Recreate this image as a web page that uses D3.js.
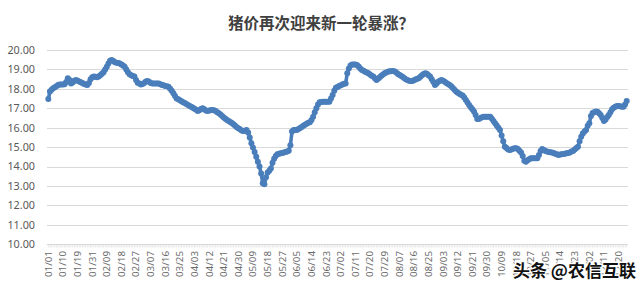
<!DOCTYPE html>
<html lang="zh">
<head>
<meta charset="utf-8" />
<title>猪价再次迎来新一轮暴涨？</title>
<script src="https://cdnjs.cloudflare.com/ajax/libs/d3/7.8.5/d3.min.js"></script>
<style>
    body { margin: 0; background: #fff; }
    svg { display: block; font-family: "Noto Sans", "Noto Sans CJK SC", sans-serif; }
    .grid line { stroke: #d9d9d9; stroke-width: 1; }
    .ylab text { fill: #595959; font-size: 10.8px; }
    .xlab text { fill: #6a6a6a; font-size: 9.8px; }
</style>
</head>
<body>
<div id="chart"></div>
<script>
    const title = "猪价再次迎来新一轮暴涨？";

    // one label every 9 points
    const tickLabels = ["01/01", "01/10", "01/19", "01/31", "02/09", "02/18", "02/27", "03/07",
        "03/16", "03/25", "04/03", "04/12", "04/21", "04/30", "05/09", "05/18", "05/27", "06/05",
        "06/14", "06/23", "07/02", "07/11", "07/20", "07/29", "08/07", "08/16", "08/25", "09/03",
        "09/12", "09/21", "09/30", "10/09", "10/18", "10/27", "11/05", "11/14", "11/23", "12/02",
        "12/11", "12/20"];

    // price, rows of 9 points, each row starts at the label above
    const prices = [
        17.48, 17.86, 17.95, 18.03, 18.08, 18.14, 18.20, 18.22, 18.22,
        18.23, 18.24, 18.35, 18.54, 18.45, 18.28, 18.33, 18.42, 18.46,
        18.42, 18.38, 18.34, 18.30, 18.25, 18.22, 18.20, 18.30, 18.50,
        18.60, 18.64, 18.62, 18.60, 18.63, 18.70, 18.78, 18.85, 19.00,
        19.14, 19.30, 19.45, 19.49, 19.44, 19.37, 19.35, 19.33, 19.31,
        19.26, 19.20, 19.14, 19.00, 18.85, 18.75, 18.70, 18.66, 18.63,
        18.45, 18.32, 18.27, 18.23, 18.25, 18.30, 18.38, 18.40, 18.36,
        18.30, 18.28, 18.28, 18.28, 18.28, 18.28, 18.24, 18.20, 18.18,
        18.15, 18.13, 18.11, 18.00, 17.90, 17.77, 17.63, 17.51, 17.47,
        17.42, 17.36, 17.31, 17.27, 17.22, 17.17, 17.12, 17.08, 17.03,
        16.97, 16.92, 16.86, 16.90, 16.96, 17.00, 16.95, 16.88, 16.86,
        16.88, 16.90, 16.91, 16.90, 16.86, 16.80, 16.74, 16.68, 16.60,
        16.52, 16.46, 16.40, 16.35, 16.30, 16.24, 16.18, 16.10, 16.02,
        15.97, 15.92, 15.86, 15.83, 15.85, 15.88, 15.75, 15.50, 15.20,
        14.98, 14.75, 14.50, 14.25, 14.00, 13.65, 13.14, 13.09, 13.45,
        13.70, 13.78, 13.90, 14.20, 14.40, 14.55, 14.63, 14.66, 14.68,
        14.70, 14.73, 14.75, 14.78, 14.82, 15.10, 15.80, 15.88, 15.88,
        15.88, 15.93, 15.98, 16.04, 16.10, 16.15, 16.20, 16.25, 16.28,
        16.40, 16.57, 16.80, 17.00, 17.20, 17.31, 17.33, 17.34, 17.34,
        17.34, 17.34, 17.34, 17.50, 17.68, 17.90, 18.06, 18.10, 18.15,
        18.18, 18.22, 18.26, 18.28, 18.80, 19.05, 19.20, 19.26, 19.26,
        19.25, 19.23, 19.15, 19.05, 18.97, 18.93, 18.88, 18.84, 18.80,
        18.74, 18.68, 18.63, 18.55, 18.46, 18.52, 18.60, 18.68, 18.74,
        18.80, 18.84, 18.88, 18.90, 18.91, 18.92, 18.90, 18.85, 18.78,
        18.72, 18.68, 18.62, 18.56, 18.50, 18.45, 18.42, 18.40, 18.40,
        18.44, 18.48, 18.52, 18.55, 18.62, 18.70, 18.76, 18.80, 18.78,
        18.70, 18.63, 18.50, 18.35, 18.20, 18.28, 18.36, 18.42, 18.46,
        18.42, 18.36, 18.30, 18.25, 18.20, 18.14, 18.05, 17.96, 17.86,
        17.80, 17.75, 17.70, 17.66, 17.55, 17.43, 17.30, 17.17, 17.05,
        16.95, 16.83, 16.65, 16.45, 16.45, 16.50, 16.54, 16.57, 16.57,
        16.57, 16.57, 16.57, 16.46, 16.35, 16.23, 16.12, 16.00, 15.88,
        15.60, 15.30, 15.02, 14.95, 14.88, 14.85, 14.88, 14.92, 14.94,
        14.94, 14.90, 14.82, 14.73, 14.55, 14.30, 14.25, 14.32, 14.38,
        14.43, 14.43, 14.43, 14.43, 14.43, 14.60, 14.80, 14.90, 14.85,
        14.80, 14.77, 14.75, 14.74, 14.73, 14.70, 14.66, 14.63, 14.60,
        14.62, 14.63, 14.65, 14.66, 14.68, 14.70, 14.73, 14.77, 14.80,
        14.88, 14.95, 15.02, 15.30, 15.54, 15.70, 15.80, 15.88, 16.10,
        16.23, 16.60, 16.76, 16.80, 16.83, 16.82, 16.75, 16.65, 16.50,
        16.35, 16.42, 16.55, 16.65, 16.80, 16.95, 17.03, 17.08, 17.12,
        17.12, 17.10, 17.08, 17.08, 17.20, 17.37
    ];

    const yTicks = [10, 11, 12, 13, 14, 15, 16, 17, 18, 19, 20];
    const labelStep = 9;

    const width = 640;
    const height = 287;

    const svg = d3.select("#chart")
        .append("svg")
        .attr("width", width)
        .attr("height", height);

    const x = d3.scalePoint()
        .domain(d3.range(prices.length))
        .range([48.3, 626.7]);

    const y = d3.scaleLinear()
        .domain([10, 20])
        .range([244.3, 50]);

    // title
    svg.append("text")
        .attr("x", 321)
        .attr("y", 29)
        .attr("text-anchor", "middle")
        .style("font-family", "'Noto Sans CJK SC', sans-serif")
        .style("font-size", "15.5px")
        .style("font-weight", "bold")
        .style("fill", "#404040")
        .text(title);

    // horizontal gridlines
    svg.append("g")
        .attr("class", "grid")
        .selectAll("line")
        .data(yTicks)
        .join("line")
        .attr("x1", 47)
        .attr("x2", 628)
        .attr("y1", d => Math.round(y(d)) + 0.5)
        .attr("y2", d => Math.round(y(d)) + 0.5);

    // y labels
    svg.append("g")
        .attr("class", "ylab")
        .selectAll("text")
        .data(yTicks)
        .join("text")
        .attr("x", 35)
        .attr("y", d => y(d) + 3.8)
        .attr("text-anchor", "end")
        .text(d => d.toFixed(2));

    // small category ticks
    svg.append("g")
        .selectAll("line")
        .data(d3.range(prices.length))
        .join("line")
        .attr("x1", d => x(d))
        .attr("x2", d => x(d))
        .attr("y1", 244.5)
        .attr("y2", 247.5)
        .attr("stroke", "#d9d9d9")
        .attr("stroke-width", 0.6);

    // rotated x labels
    svg.append("g")
        .attr("class", "xlab")
        .selectAll("text")
        .data(tickLabels)
        .join("text")
        .attr("transform", (d, i) => `translate(${x(i * labelStep) + 3.4}, 251) rotate(-90)`)
        .attr("text-anchor", "end")
        .text(d => d);

    // price line
    const line = d3.line()
        .x((d, i) => x(i))
        .y(d => y(d));

    svg.append("path")
        .datum(prices)
        .attr("fill", "none")
        .attr("stroke", "#4a7ebb")
        .attr("stroke-width", 3.6)
        .attr("stroke-linejoin", "round")
        .attr("d", line);

    svg.append("g")
        .selectAll("circle")
        .data(prices)
        .join("circle")
        .attr("cx", (d, i) => x(i))
        .attr("cy", d => y(d))
        .attr("r", 3)
        .attr("fill", "#4a7ebb");

    // watermark
    svg.append("text")
        .attr("x", 513)
        .attr("y", 277)
        .style("font-family", "'Noto Sans CJK SC', sans-serif")
        .style("font-size", "17px")
        .style("font-weight", "bold")
        .style("fill", "#111")
        .style("stroke", "#fff")
        .style("stroke-width", 2.5)
        .style("paint-order", "stroke")
        .text("头条 @农信互联");
</script>
</body>
</html>
